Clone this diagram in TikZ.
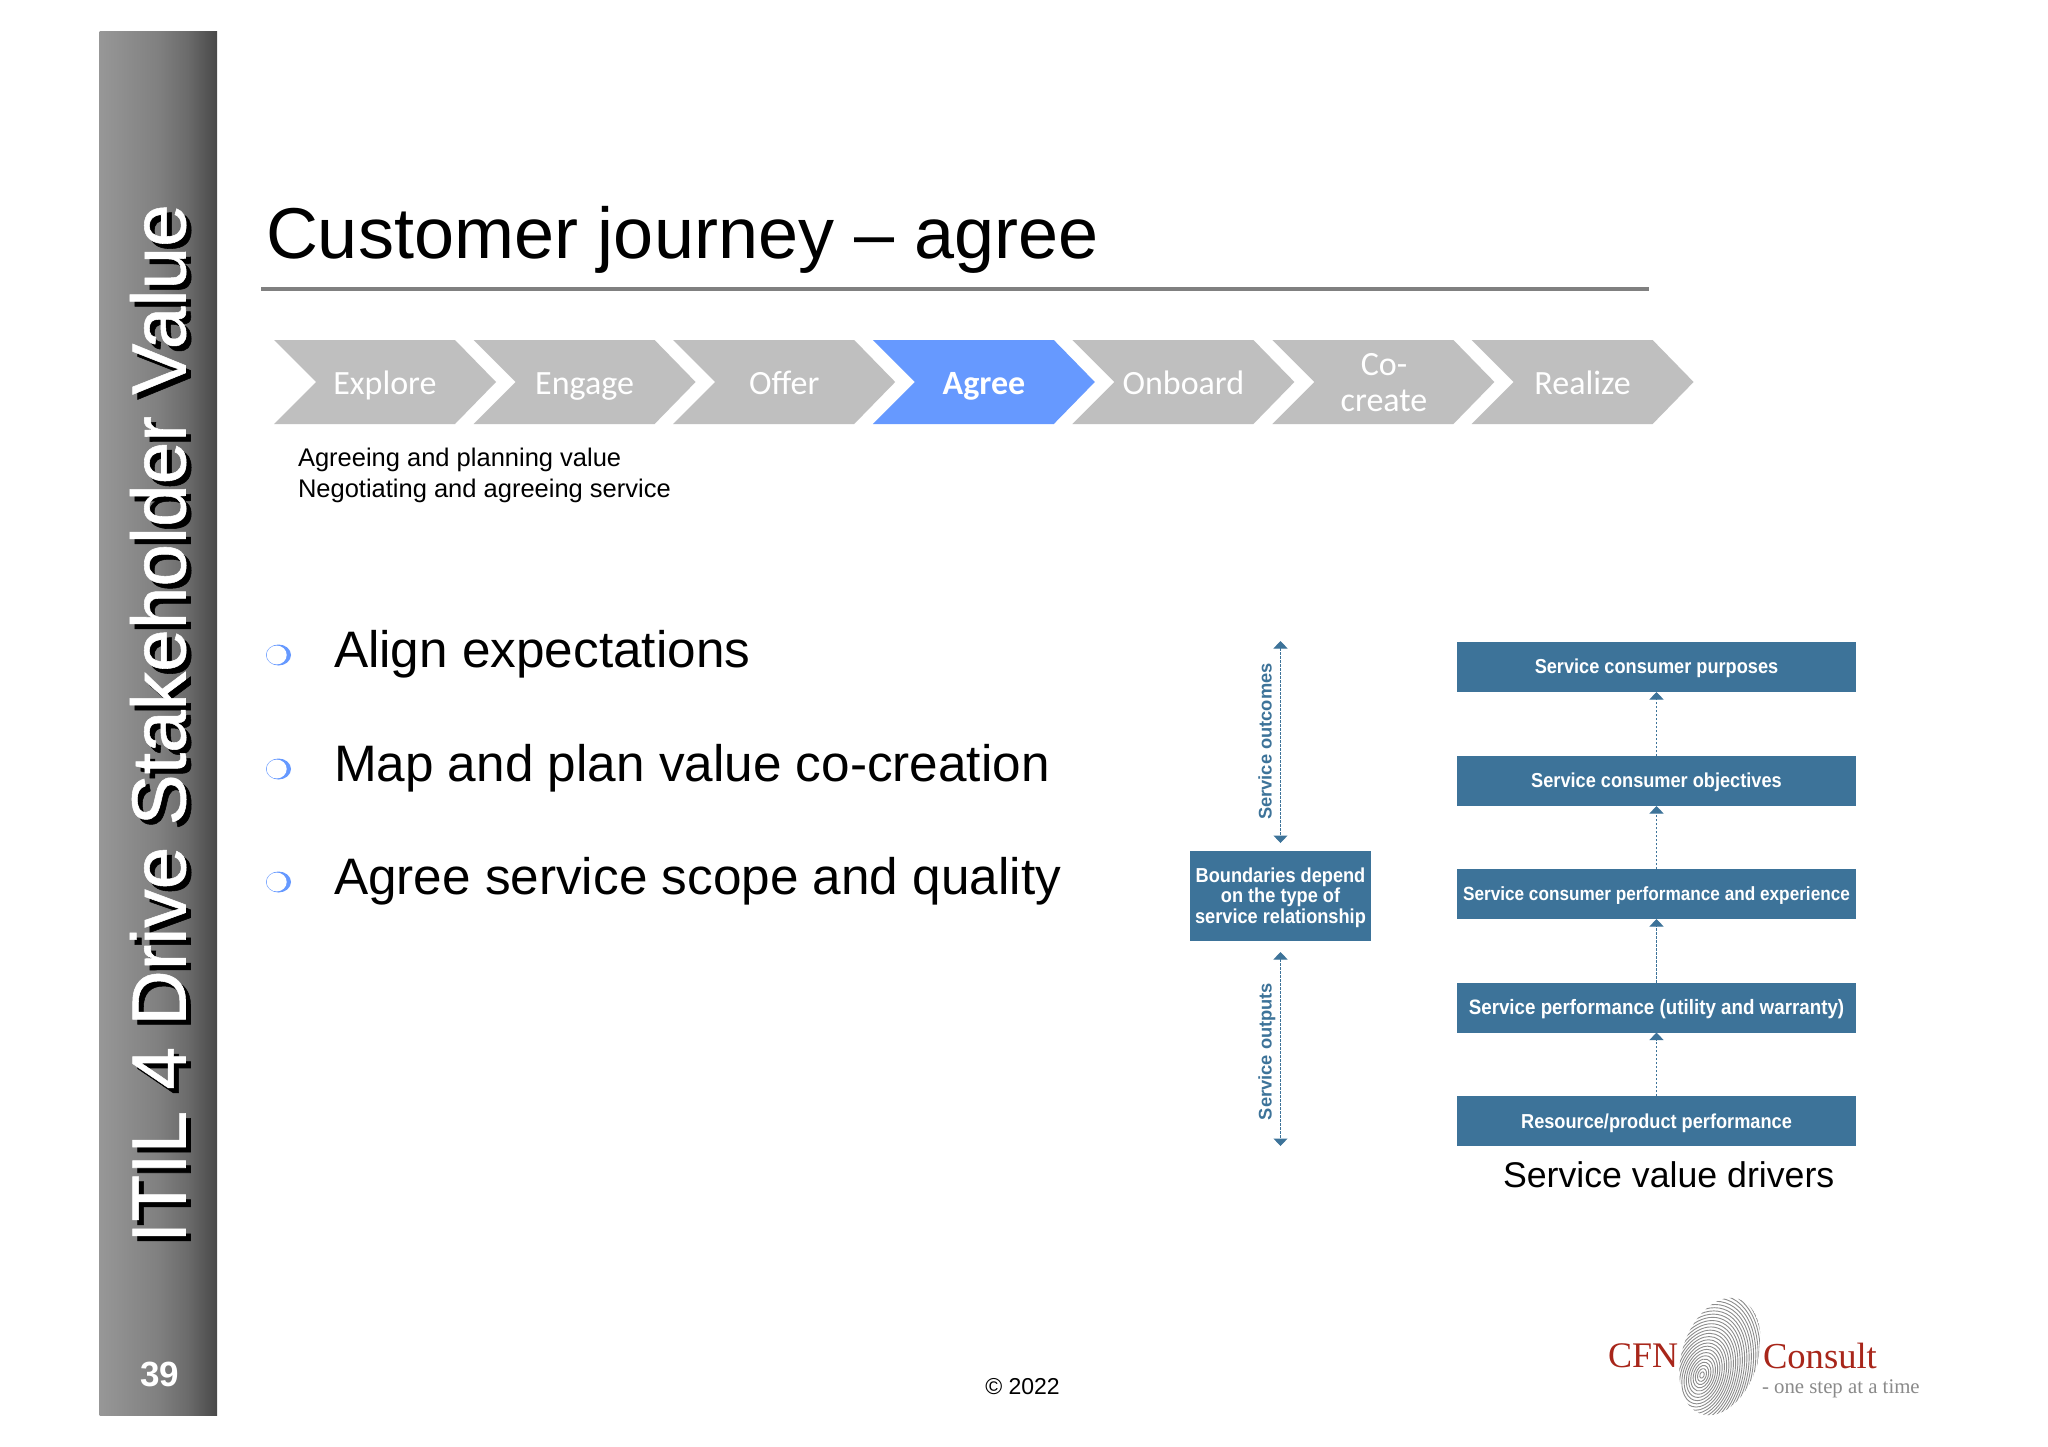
\documentclass[tikz,border=0pt]{standalone}
\usepackage{fontspec}
\setmainfont{Liberation Sans}
\newfontfamily\carl{Carlito}
\newfontfamily\boxf[FakeStretch=0.9]{Liberation Sans}
\newfontfamily\logof{Liberation Serif}
\newfontfamily\sidef[FakeBold=0.7]{Liberation Sans}
\usetikzlibrary{arrows.meta}
\newcommand\fsz[2]{\fontsize{#1}{#2}\selectfont}
\definecolor{sbl}{HTML}{979797}
\definecolor{sbm}{HTML}{808080}
\definecolor{sbr}{HTML}{6B6B6B}
\definecolor{sbe}{HTML}{484848}
\definecolor{chevgray}{HTML}{BFBFBF}
\definecolor{chevblue}{HTML}{6699FF}
\definecolor{svb}{HTML}{3D7399}
\definecolor{logored}{HTML}{A8261A}
\definecolor{logogray}{HTML}{8A8A8A}
\pgfdeclarehorizontalshading{sidebarshade}{100bp}{color(0bp)=(sbl); color(25bp)=(sbl); color(50bp)=(sbm); color(62.5bp)=(sbr); color(75bp)=(sbe); color(100bp)=(sbe)}
\tikzset{
  plain/.style={inner sep=0pt,outer sep=0pt},
  chev/.style={fill=chevgray},
  chevlab/.style={plain,anchor=base,text=white,font=\carl\fsz{34}{36.7}},
  svbox/.style={plain,fill=svb,text=white,minimum width=399pt,minimum height=50pt,text height=16pt,text depth=4pt,font=\boxf\bfseries\fsz{20.2}{21}},
  upar/.style={svb,line width=1pt,dash pattern=on 2.5pt off 1.5pt,-{Triangle[width=14pt,length=7.5pt]}},
  dblar/.style={svb,line width=1pt,dash pattern=on 2.5pt off 1.5pt,{Triangle[width=14pt,length=7.5pt]}-{Triangle[width=14pt,length=7.5pt]}},
  sidelab/.style={plain,anchor=base,rotate=90,text=svb,font=\bfseries\fsz{18.3}{18}},
  bultxt/.style={plain,anchor=base west,font=\fsz{51.3}{52}},
  sidetxt/.style={plain,anchor=base west,rotate=90,font=\sidef\fsz{76.7}{80}},
  fpline/.style={draw=black!45,line width=0.9pt},
}
\newcommand\bulletmark[2]{%
  \fill[chevblue] (#1,#2) ellipse [x radius=12.5,y radius=10.5];
  \fill[white] (#1-1.8,#2) ellipse [x radius=10,y radius=9.4];
}
\begin{document}
\begin{tikzpicture}[x=1pt,y=-1pt]
\useasboundingbox (0,0) rectangle (2048,1447);
\fill[white] (0,0) rectangle (2048,1447);
% sidebar
\path[shading=sidebarshade,shading angle=0] (99.5,32) rectangle (217,1415.5);
\node[sidetxt,text=black] (sideshadow) at (190.5,1248) {ITIL 4 Drive Stakeholder Value};
\node[sidetxt,text=white] (sidetitle) at (185.5,1243) {ITIL 4 Drive Stakeholder Value};
\node[plain,anchor=base,text=white,font=\bfseries\fsz{35}{35}] (pagenum) at (159.5,1386) {39};
% title
\node[plain,anchor=base west,font=\fsz{72}{72}] (title) at (266,258.5) {Customer journey – agree};
\coordinate (rulea) at (261,289.5);
\coordinate (ruleb) at (1649,289.5);
\draw[line width=4pt,black!50] (rulea) -- (ruleb);
% chevrons
\foreach \k/\nm/\txt in {0/explore/Explore,1/engage/Engage,2/offer/Offer,4/onboard/Onboard,6/realize/Realize}{
  \pgfmathsetmacro\l{274+199.6*\k}
  \fill[chev] (\l,340) -- (\l+181,340) -- (\l+222,382) -- (\l+181,424) -- (\l,424) -- (\l+42,382) -- cycle;
  \node[chevlab] (\nm) at (\l+111,394.5) {\txt};
}
\fill[chevblue] (872.8,340) -- (1053.8,340) -- (1094.8,382) -- (1053.8,424) -- (872.8,424) -- (914.8,382) -- cycle;
\node[chevlab,font=\carl\bfseries\fsz{34}{36.7}] (agree) at (984,394.5) {Agree};
\fill[chev] (1272.4,340) -- (1453.4,340) -- (1494.4,382) -- (1453.4,424) -- (1272.4,424) -- (1314.4,382) -- cycle;
\node[chevlab,anchor=center,align=center] (cocreate) at (1384,382.5) {Co-\\create};
% sub text
\node[plain,anchor=base west,align=left,font=\fsz{25.5}{31}] (sub1) at (298,466.5) {Agreeing and planning value};
\node[plain,anchor=base west,align=left,font=\fsz{25.5}{31}] (sub2) at (298,497.5) {Negotiating and agreeing service};
% bullets
\bulletmark{278.5}{655}
\bulletmark{278.5}{769}
\bulletmark{278.5}{882}
\node[bultxt] (b1) at (334,667) {Align expectations};
\node[bultxt] (b2) at (334,781) {Map and plan value co-creation};
\node[bultxt] (b3) at (334,894.5) {Agree service scope and quality};
% service value drivers
\node[svbox] (d1) at (1656.5,667) {Service consumer purposes};
\node[svbox] (d2) at (1656.5,781) {Service consumer objectives};
\node[svbox,font=\boxf\bfseries\fsz{19.1}{21}] (d3) at (1656.5,894) {Service consumer performance and experience};
\node[svbox,text height=18pt,font=\boxf\bfseries\fsz{20.85}{21}] (d4) at (1656.5,1007.5) {Service performance (utility and warranty)};
\node[svbox,text height=18pt] (d5) at (1656.5,1121) {Resource/product performance};
\draw[upar] (d2.north) -- (d1.south);
\draw[upar] (d3.north) -- (d2.south);
\draw[upar] (d4.north) -- (d3.south);
\draw[upar] (d5.north) -- (d4.south);
\node[plain,fill=svb,text=white,minimum width=181pt,minimum height=90pt,align=center,font=\boxf\bfseries\fsz{20.2}{20.7}] (bnd) at (1280.5,896) {\rule{0pt}{18pt}Boundaries depend\\on the type of\\service relationship};
\coordinate (outtop) at (1280.5,641);
\coordinate (outbot) at (1280.5,1146);
\draw[dblar,shorten >=8pt] (outtop) -- (bnd.north);
\draw[dblar,shorten <=11pt] (bnd.south) -- (outbot);
\node[sidelab] (lout) at (1271.5,741.5) {Service outcomes};
\node[sidelab] (lput) at (1271.5,1051.5) {Service outputs};
\node[plain,anchor=base west,font=\fsz{35.7}{36}] (drivers) at (1503,1187.5) {Service value drivers};
% copyright
\node[plain,anchor=base,font=\fsz{23}{23}] (copy) at (1022.5,1394) {© 2022};
% logo
\begin{scope}
\clip[shift={(1720,1356.5)},rotate=-18] (0,0) ellipse [x radius=38,y radius=60.5];
\foreach \r in {3,6,...,105}{
  \draw[fpline,shift={(1702,1375)},rotate=-18] (0,0) ellipse [x radius=\r*0.7,y radius=\r*1.1];
}
\end{scope}
\node[plain,anchor=base west,text=logored,font=\logof\fsz{36}{36}] (cfn) at (1608,1367) {CFN};
\node[plain,anchor=base west,text=logored,font=\logof\fsz{36.6}{37}] (consult) at (1763,1368) {Consult};
\node[plain,anchor=base west,text=logogray,font=\logof\fsz{20.8}{21}] (tag) at (1762,1393.5) {- one step at a time};
\end{tikzpicture}
\end{document}
